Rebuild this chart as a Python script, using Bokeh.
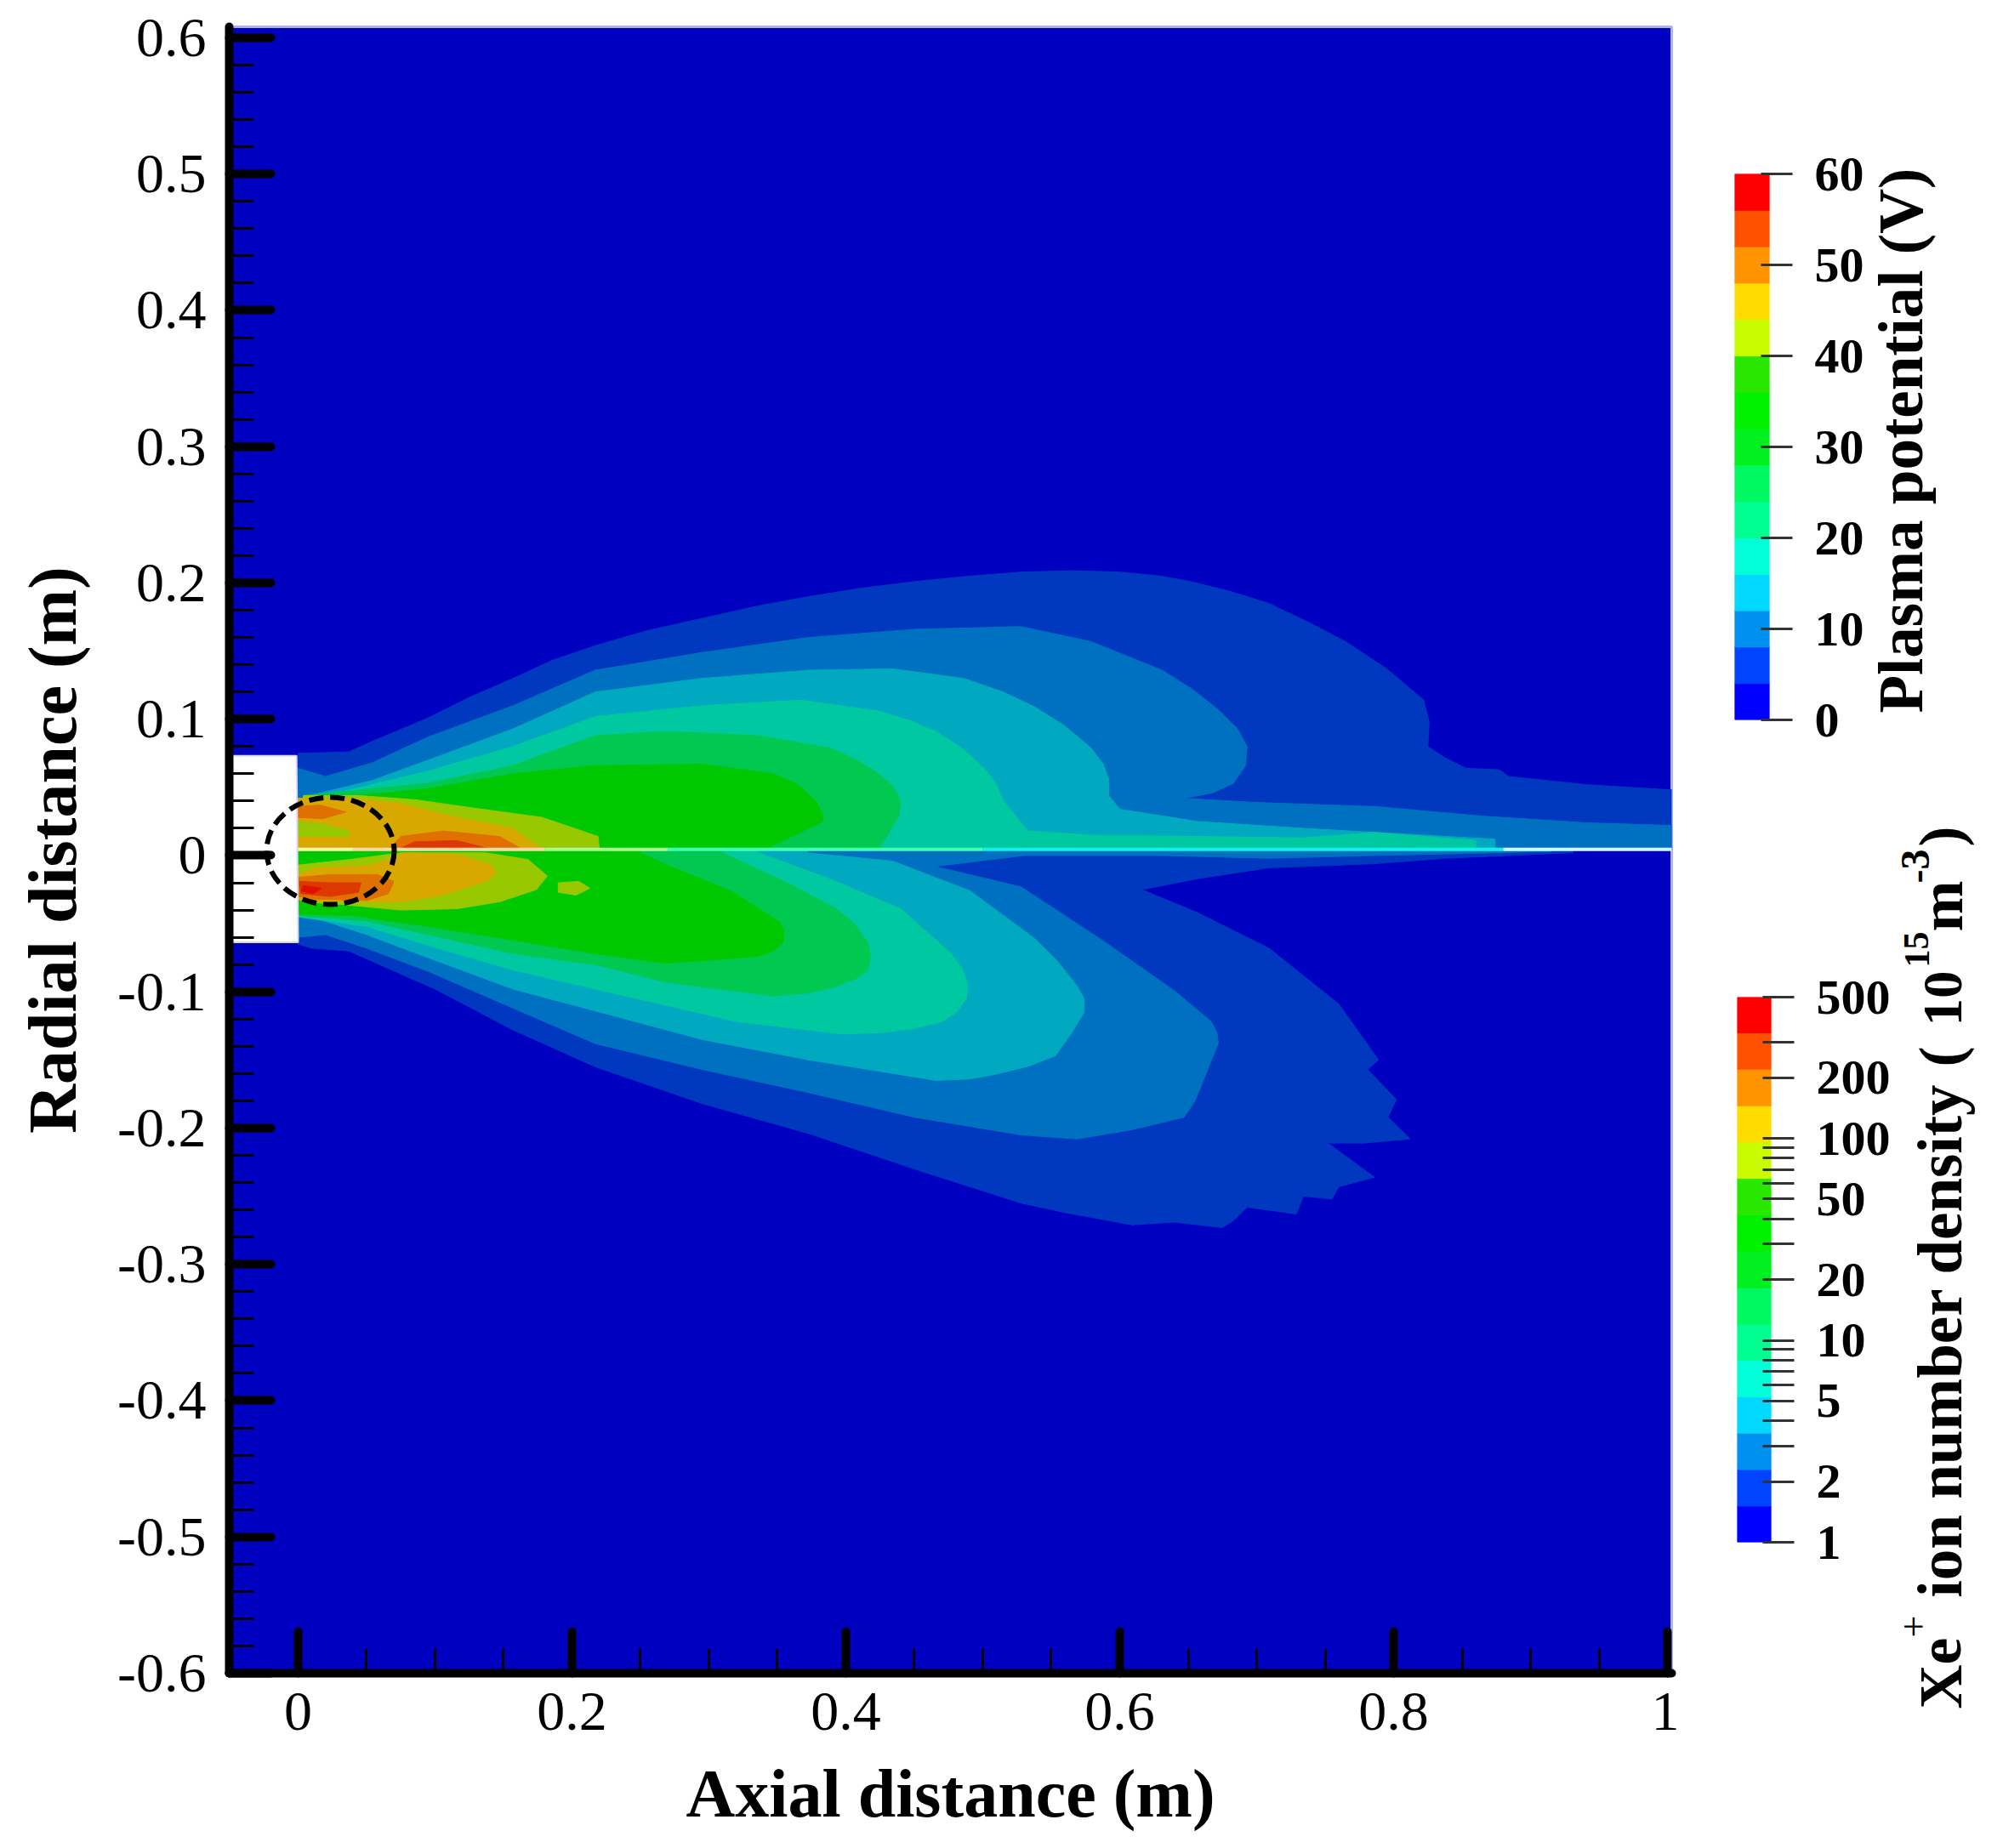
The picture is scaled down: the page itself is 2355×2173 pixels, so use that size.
from bokeh.core.properties import value
from bokeh.embed import file_html
from bokeh.resources import INLINE
from bokeh.plotting import figure
from bokeh.layouts import row, column
from bokeh.models import FixedTicker, Range1d

# ---- axes ----
x_ticks = [0, 0.2, 0.4, 0.6, 0.8, 1]
x_tick_labels = ["0", "0.2", "0.4", "0.6", "0.8", "1"]
y_ticks = [-0.6, -0.5, -0.4, -0.3, -0.2, -0.1, 0, 0.1, 0.2, 0.3, 0.4, 0.5, 0.6]
y_tick_labels = ["-0.6", "-0.5", "-0.4", "-0.3", "-0.2", "-0.1", "0", "0.1", "0.2", "0.3", "0.4", "0.5", "0.6"]
x_minor = [0.05, 0.1, 0.15, 0.25, 0.3, 0.35, 0.45, 0.5, 0.55, 0.65, 0.7, 0.75, 0.85, 0.9, 0.95]
y_minor = [round(-0.6 + 0.02 * i, 2) for i in range(61) if i % 5]

# ---- colour bars ----
potential_edges = [0, 4, 8, 12, 16, 20, 24, 28, 32, 36, 40, 44, 48, 52, 56, 60]
density_edges = [1, 1.51, 2.29, 3.47, 5.26, 7.96, 12.0, 18.2, 27.6, 41.8, 63.3, 95.9, 145, 220, 333, 500]
band_colors = ["#0000ff", "#0044ff", "#0090f0", "#00d8ff", "#00ffd8", "#00ff90", "#00f860", "#00f020",
               "#00f000", "#28e800", "#c8fa00", "#ffdc00", "#ff9400", "#ff5000", "#ff0000"]
potential_ticks = [0, 10, 20, 30, 40, 50, 60]
density_ticks = [1, 2, 3, 4, 5, 6, 7, 8, 9, 10, 20, 30, 40, 50, 60, 70, 80, 90, 100, 200, 300, 500]
density_labelled = [1, 2, 5, 10, 20, 50, 100, 200, 500]

# ---- filled contour regions (axial m, radial m) ----
c1, c2, c3, c4, c5, c6 = "#0038bf", "#0070c0", "#00a8c0", "#00c8a0", "#00c850", "#00c800"
c7, c8, c9, c10, c11 = "#98c800", "#d8a800", "#e07000", "#dc3800", "#e01000"
axis_y = 0.0045

upper_1 = [(0, axis_y), (0, 0.075), (0.037, 0.076), (0.05, 0.082), (0.095, 0.101), (0.125, 0.116), (0.157, 0.130),
           (0.185, 0.143), (0.217, 0.154), (0.255, 0.165), (0.295, 0.174), (0.335, 0.183), (0.373, 0.190),
           (0.410, 0.196), (0.450, 0.201), (0.490, 0.205), (0.528, 0.208), (0.565, 0.209), (0.600, 0.208),
           (0.630, 0.205), (0.652, 0.201), (0.680, 0.194), (0.709, 0.185), (0.740, 0.170), (0.765, 0.157),
           (0.795, 0.137), (0.815, 0.120), (0.822, 0.114), (0.826, 0.098), (0.825, 0.080), (0.837, 0.072),
           (0.853, 0.064), (0.877, 0.063), (0.884, 0.058), (0.941, 0.052), (1.006, 0.048), (1.006, axis_y)]
upper_2 = [(0, axis_y), (0, 0.064), (0.02, 0.058), (0.054, 0.068), (0.095, 0.087), (0.157, 0.110), (0.217, 0.136),
           (0.295, 0.149), (0.373, 0.160), (0.450, 0.166), (0.528, 0.168), (0.579, 0.157), (0.631, 0.136),
           (0.653, 0.122), (0.672, 0.107), (0.686, 0.093), (0.693, 0.080), (0.692, 0.066), (0.683, 0.053),
           (0.668, 0.046), (0.647, 0.042), (0.698, 0.039), (0.786, 0.036),
           (0.864, 0.029), (0.941, 0.024), (1.006, 0.022), (1.006, axis_y)]
upper_3 = [(0, axis_y), (0.004, 0.043), (0.054, 0.055), (0.095, 0.070), (0.157, 0.093), (0.217, 0.120), (0.295, 0.130),
           (0.373, 0.136), (0.434, 0.137), (0.486, 0.130), (0.515, 0.120), (0.538, 0.109), (0.560, 0.095),
           (0.579, 0.079), (0.588, 0.067), (0.592, 0.056),
           (0.592, 0.044), (0.600, 0.034), (0.657, 0.025), (0.734, 0.020), (0.874, 0.012), (0.874, axis_y)]
upper_4 = [(0, axis_y), (0.004, 0.043), (0.033, 0.047), (0.095, 0.062), (0.157, 0.080), (0.217, 0.102), (0.295, 0.110),
           (0.367, 0.114), (0.424, 0.106), (0.447, 0.099), (0.466, 0.091), (0.486, 0.078), (0.502, 0.063),
           (0.510, 0.052), (0.515, 0.040), (0.533, 0.018),
           (0.579, 0.015), (0.734, 0.013), (0.786, 0.017), (0.86, 0.011), (0.86, axis_y)]
upper_5 = [(0, axis_y), (0.004, 0.044), (0.095, 0.053), (0.157, 0.066), (0.217, 0.088), (0.269, 0.091), (0.336, 0.088),
           (0.388, 0.079), (0.408, 0.070), (0.424, 0.060), (0.435, 0.050), (0.440, 0.040), (0.439, 0.030),
           (0.434, 0.021), (0.424, axis_y)]
upper_6 = [(0, axis_y), (0.004, 0.044), (0.044, 0.044), (0.095, 0.049), (0.157, 0.060), (0.217, 0.066), (0.295, 0.067),
           (0.347, 0.060), (0.365, 0.052), (0.378, 0.040), (0.383, 0.030), (0.383, 0.025), (0.341, axis_y)]
upper_7 = [(0, axis_y), (0.004, 0.044), (0.044, 0.044), (0.085, 0.041), (0.127, 0.035), (0.178, 0.028), (0.219, 0.014),
           (0.22, axis_y)]
upper_8 = [(0, axis_y), (0, 0.042), (0.040, 0.042), (0.075, 0.038), (0.116, 0.028), (0.157, 0.020), (0.178, axis_y)]
upper_9a = [(0, 0.036), (0.016, 0.037), (0.035, 0.032), (0.018, 0.027), (0, 0.028)]
upper_7b = [(0, 0.025), (0.019, 0.023), (0.037, 0.018), (0.037, 0.014), (0, 0.014)]
upper_9b = [(0.066, axis_y), (0.075, 0.014), (0.106, 0.018), (0.147, 0.014), (0.164, axis_y)]
upper_10 = [(0.073, axis_y), (0.085, 0.010), (0.116, 0.011), (0.141, axis_y)]

lower_1 = [(0, axis_y), (0, -0.065), (0.01, -0.068), (0.037, -0.070), (0.1, -0.098), (0.157, -0.128), (0.217, -0.155),
           (0.295, -0.182), (0.373, -0.204), (0.450, -0.230), (0.528, -0.255), (0.56, -0.262), (0.609, -0.271),
           (0.64, -0.269), (0.675, -0.273), (0.683, -0.268), (0.693, -0.258), (0.729, -0.263), (0.734, -0.250),
           (0.755, -0.252), (0.760, -0.243), (0.786, -0.236), (0.752, -0.211), (0.778, -0.211), (0.812, -0.208),
           (0.796, -0.192), (0.802, -0.179), (0.781, -0.157), (0.789, -0.150), (0.760, -0.109), (0.709, -0.068),
           (0.657, -0.042), (0.616, -0.025), (0.657, -0.017), (0.709, -0.009), (0.786, -0.006), (0.838, -0.002),
           (0.931, 0.002), (0.931, axis_y)]
lower_2 = [(0, axis_y), (0, -0.060), (0.02, -0.058), (0.05, -0.068), (0.095, -0.085), (0.157, -0.112), (0.217, -0.138),
           (0.295, -0.157), (0.373, -0.174), (0.450, -0.192), (0.528, -0.205), (0.569, -0.208), (0.610, -0.201),
           (0.647, -0.192), (0.655, -0.180), (0.665, -0.155), (0.672, -0.138), (0.671, -0.130), (0.667, -0.122),
           (0.641, -0.100), (0.590, -0.064),
           (0.528, -0.023), (0.465, -0.008), (0.530, 0.000), (0.631, 0.000), (0.709, -0.002), (0.786, 0.000),
           (0.915, 0.003), (0.915, axis_y)]
lower_3 = [(0, axis_y), (0, -0.045), (0.01, -0.045), (0.05, -0.058), (0.095, -0.075), (0.157, -0.098), (0.217, -0.114),
           (0.295, -0.135), (0.373, -0.150), (0.466, -0.165), (0.490, -0.164), (0.507, -0.161), (0.532, -0.155),
           (0.553, -0.147), (0.565, -0.130), (0.574, -0.115), (0.574, -0.105), (0.569, -0.096), (0.555, -0.078),
           (0.538, -0.061), (0.491, -0.026), (0.434, -0.004), (0.372, 0.002), (0.372, axis_y)]
lower_4 = [(0, axis_y), (0, -0.045), (0.05, -0.052), (0.095, -0.066), (0.157, -0.084), (0.217, -0.098), (0.321, -0.122),
           (0.398, -0.131), (0.425, -0.130), (0.450, -0.127), (0.470, -0.122), (0.481, -0.115), (0.488, -0.105),
           (0.489, -0.096), (0.485, -0.083), (0.476, -0.071), (0.440, -0.039),
           (0.388, -0.017), (0.336, 0.002), (0.336, axis_y)]
lower_5 = [(0, axis_y), (0, -0.044), (0.05, -0.048), (0.095, -0.058), (0.157, -0.072), (0.217, -0.080), (0.269, -0.093),
           (0.347, -0.103), (0.372, -0.101), (0.393, -0.096), (0.408, -0.090), (0.416, -0.084), (0.418, -0.074),
           (0.416, -0.064), (0.406, -0.050), (0.393, -0.039), (0.357, -0.020),
           (0.310, 0.002), (0.310, axis_y)]
lower_6 = [(0, axis_y), (0, -0.043), (0.04, -0.044), (0.095, -0.052), (0.157, -0.062), (0.217, -0.072), (0.269, -0.079),
           (0.336, -0.074), (0.347, -0.070), (0.354, -0.064), (0.355, -0.056), (0.352, -0.049), (0.316, -0.026),
           (0.269, -0.007), (0.25, 0.002), (0.25, axis_y)]
lower_7 = [(0, -0.007), (0.037, -0.003), (0.075, 0.002), (0.137, 0.002), (0.168, -0.003), (0.182, -0.015), (0.174, -0.025),
           (0.147, -0.034), (0.116, -0.039), (0.075, -0.040), (0.033, -0.036), (0.004, -0.034), (0, -0.032)]
lower_7b = [(0.19, -0.020), (0.205, -0.019), (0.213, -0.024), (0.203, -0.029), (0.19, -0.027)]
lower_8 = [(0, -0.014), (0.013, -0.009), (0.054, -0.007), (0.079, 0.002), (0.116, 0.001), (0.141, -0.007), (0.145, -0.013),
           (0.137, -0.019), (0.106, -0.029), (0.075, -0.034), (0.044, -0.034), (0.006, -0.033), (0, -0.032)]
lower_9 = [(0, -0.016), (0.023, -0.014), (0.058, -0.014), (0.070, -0.019), (0.066, -0.028), (0.050, -0.033),
           (0.013, -0.032), (0, -0.030)]
lower_10 = [(0.001, -0.019), (0.023, -0.020), (0.046, -0.020), (0.044, -0.027), (0.023, -0.030), (0.002, -0.028)]
lower_11 = [(0.004, -0.022), (0.017, -0.024), (0.011, -0.028), (0.002, -0.026)]

regions = [
    (upper_1, c1), (lower_1, c1), (upper_2, c2), (lower_2, c2), (upper_3, c3), (lower_3, c3),
    (upper_4, c4), (lower_4, c4), (upper_5, c5), (lower_5, c5), (upper_6, c6), (lower_6, c6),
    (upper_7, c7), (lower_7, c7), (lower_7b, c7), (upper_8, c8), (lower_8, c8), (upper_9a, c9), (upper_7b, c7),
    (upper_9b, c9), (upper_10, c10), (lower_9, c9), (lower_10, c10), (lower_11, c11),
]

# white centre line: stretches of colour along the axis
line_x0 = [0, 0.04, 0.18, 0.27, 0.50, 0.88]
line_x1 = [0.04, 0.18, 0.27, 0.50, 0.88, 1.004]
line_col = ["#f8f8a8", "#ffd8a8", "#a8ff90", "#40ffb0", "#10f0e8", "#d0f8ff"]

nozzle_x = [-0.0503, -0.0011, 0, -0.0503]
nozzle_y = [0.0731, 0.0731, -0.0637, -0.0637]
circle_x, circle_y, circle_w, circle_h = 0.0236, 0.0034, 0.0932, 0.0786

# rotated titles of the two bars: text, anchor across, anchor along, size, style
plasma_title = [("Plasma potential (V)", 2235, 838, 73, "bold")]
density_title = [("Xe", 2281, 2009, 72, "bold"), ("+", 2249, 1925, 46, "normal"),
                 ("ion number density", 2281, 1878, 73, "bold"), ("(", 2281, 1254, 72, "bold"),
                 ("10", 2284, 1206, 65, "bold"), ("15", 2253, 1137, 42, "bold"),
                 ("m", 2282, 1095, 72, "bold"), ("-3", 2252, 1038, 48, "bold"),
                 (")", 2281, 995, 72, "bold")]

SERIF = "Liberation Serif"
BG = "#0000c0"

p = figure(width=1974, height=2171, output_backend="svg", toolbar_location=None,
           x_range=Range1d(-0.0503, 1.0031), y_range=Range1d(-0.6, 0.6081),
           min_border_left=269, min_border_right=9, min_border_top=31, min_border_bottom=204,
           background_fill_color=BG, outline_line_color="#b0b0f0", outline_line_width=3)
p.grid.visible = False

for pts, col in regions:
    p.patch([a for a, b in pts], [b for a, b in pts], fill_color=col, line_color=col, line_width=1)

p.patch(nozzle_x, nozzle_y, fill_color="white", line_color="#d8d8ff", line_width=2)
p.segment(line_x0, [axis_y] * len(line_x0), line_x1, [axis_y] * len(line_x0), line_color=line_col, line_width=4)
circle = p.ellipse([circle_x], [circle_y], width=circle_w, height=circle_h, fill_color=None, line_color="black",
                   line_width=6)
circle.glyph.line_dash = {"value": [17, 8]}

for ax, ticks, labels, minor, name in [(p.xaxis, x_ticks, x_tick_labels, x_minor, "Axial distance (m)"),
                                       (p.yaxis, y_ticks, y_tick_labels, y_minor, "Radial distance (m)")]:
    ax.ticker = FixedTicker(ticks=ticks, minor_ticks=minor)
    ax.major_label_overrides = dict(zip(ticks, labels))
    ax.axis_label = name
    ax.axis_label_text_font = SERIF
    ax.axis_label_text_font_style = "bold"
    ax.axis_label_text_font_size = "80px"
    ax.axis_label_text_color = "black"
    ax.axis_label_text_line_height = 1.0
    ax.major_label_text_font = SERIF
    ax.major_label_text_font_size = "66px"
    ax.major_label_text_color = "black"
    ax.axis_line_width = 10
    ax.axis_line_color = "black"
    ax.axis_line_cap = "round"
    ax.major_tick_in = 49
    ax.major_tick_out = 0
    ax.major_tick_line_width = 10
    ax.major_tick_line_color = "black"
    ax.major_tick_line_cap = "round"
    ax.minor_tick_in = 29
    ax.minor_tick_out = 0
    ax.minor_tick_line_width = 3
    ax.minor_tick_line_color = "black"
p.xaxis.major_label_standoff = 23
p.yaxis.major_label_standoff = 27
p.xaxis.axis_label_standoff = 28
p.yaxis.axis_label_standoff = 29


def colorbar(edges, ticks, labelled, width, height, left, right, top, bottom, log):
    f = figure(width=width, height=height, output_backend="svg", toolbar_location=None,
               x_range=Range1d(0, 1), y_range=Range1d(edges[0], edges[-1]),
               y_axis_location="right", y_axis_type="log" if log else "linear",
               min_border_left=left, min_border_right=right, min_border_top=top, min_border_bottom=bottom,
               outline_line_color=None)
    f.grid.visible = False
    f.xaxis.visible = False
    f.quad(left=0, right=1, bottom=edges[:-1], top=edges[1:], fill_color=band_colors, line_color=band_colors)
    ax = f.yaxis[0]
    ax.ticker = FixedTicker(ticks=ticks, minor_ticks=[])
    ax.major_label_overrides = {t: (str(t) if t in labelled else "") for t in ticks}
    ax.axis_line_color = None
    ax.major_tick_in = 10
    ax.major_tick_out = 27
    ax.major_tick_line_width = 3
    ax.major_tick_line_color = "#333333"
    ax.major_label_standoff = 26
    ax.major_label_text_font = SERIF
    ax.major_label_text_font_style = "bold"
    ax.major_label_text_font_size = "58px"
    ax.major_label_text_color = "black"
    return f


def title_strip(items, width, height, x0, x1, y0, y1):
    f = figure(width=width, height=height, output_backend="svg", toolbar_location=None,
               x_range=Range1d(x0, x1), y_range=Range1d(y1, y0), x_axis_location=None, y_axis_location=None,
               min_border_left=0, min_border_right=0, min_border_top=0, min_border_bottom=0,
               outline_line_color=None)
    f.grid.visible = False
    for text, across, along, size, style in items:
        f.text([across], [along], text=[text], angle=1.5708, text_font=value(SERIF), text_font_style=style,
               text_font_size=f"{size}px", text_color="black", text_align="left", text_baseline="alphabetic")
    return f


pot = colorbar(potential_edges, potential_ticks, potential_ticks, 225, 960, 65, 119, 204, 114, False)
den = colorbar(density_edges, density_ticks, density_labelled, 255, 1205, 68, 147, 212, 352, True)
pot_strip = title_strip(plasma_title, 147, 960, 2199, 2346, 0, 960)
den_strip = title_strip(density_title, 117, 1205, 2229, 2346, 960, 2165)

layout = row(p, column(row(pot, column(pot_strip), spacing=0), row(den, column(den_strip), spacing=0), spacing=0),
             spacing=0)
open("out.html", "w").write(file_html(layout, INLINE))
